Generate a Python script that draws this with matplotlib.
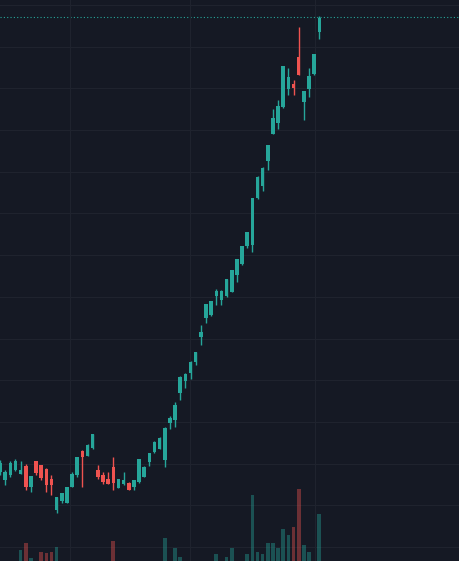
import numpy as np
import matplotlib.pyplot as plt

opens = [89, 81, 86, 91, 87, 95, 74, 100, 96, 92, 82, 51, 60, 58, 74, 86, 110, 105, 113, 91,
         86, 82, 94, 73, 77, 78, 74, 79, 84, 99, 109, 112, 101, 138, 141, 168, 180, 188, 199, 224,
         243, 246, 265, 261, 265, 269, 286, 297, 315, 316, 363, 375, 400, 427, 438, 454, 472, 477, 504, 459,
         472, 487, 529]
closes = [98, 89, 98, 100, 91, 74, 85, 88, 83, 76, 76, 64, 68, 74, 87, 104, 104, 116, 127, 84,
          79, 77, 78, 82, 81, 71, 81, 102, 94, 108, 119, 123, 133, 143, 156, 184, 187, 199, 209, 229,
          257, 260, 270, 270, 282, 291, 302, 315, 329, 363, 384, 393, 416, 443, 455, 495, 484, 473, 486, 470,
          485, 507, 543]
highs = [101, 91, 100, 102, 100, 97, 85, 100, 96, 93, 86, 64, 68, 74, 89, 104, 111, 117, 127, 96,
         89, 89, 104, 82, 89, 79, 81, 102, 95, 108, 120, 124, 134, 145, 159, 185, 188, 200, 209, 236,
         257, 260, 272, 271, 282, 291, 302, 315, 329, 363, 385, 394, 416, 452, 461, 495, 493, 481, 534, 470,
         493, 507, 545]
lows = [86, 76, 84, 90, 87, 71, 69, 86, 81, 69, 66, 48, 58, 58, 74, 84, 74, 105, 112, 82,
        77, 77, 71, 73, 76, 71, 71, 78, 84, 95, 108, 112, 94, 132, 134, 161, 173, 182, 196, 216,
        238, 245, 256, 256, 264, 269, 279, 296, 313, 309, 362, 370, 391, 427, 432, 453, 466, 466, 486, 441,
        464, 486, 522]
volumes = [0, 0, 0, 0, 11, 18, 3, 0, 9, 8, 9, 14, 0, 0, 0, 0, 0, 0, 0, 0,
           0, 0, 20, 0, 0, 0, 0, 0, 0, 0, 0, 0, 23, 0, 13, 4, 0, 0, 0, 0,
           0, 0, 7, 0, 4, 13, 0, 0, 7, 66, 9, 7, 18, 18, 13, 32, 26, 34, 72, 16,
           9, 0, 47]
last_price = 544

up = "#26a69a"
down = "#ef5350"
bg = "#151924"

fig = plt.figure(figsize=(4.6, 5.61), dpi=100, facecolor=bg)
ax = fig.add_axes([0, 0, 1, 1])
ax.set_facecolor(bg)

x = np.arange(len(opens))
o = np.array(opens); c = np.array(closes)
colors = [up if cc >= oo else down for oo, cc in zip(o, c)]

# volume
ax.bar(x, volumes, width=0.7, color=colors, alpha=0.4, zorder=2)
# wicks
ax.vlines(x, lows, highs, colors=colors, linewidth=1.0, zorder=3)
# bodies
ax.bar(x, np.maximum(np.abs(c - o), 1), bottom=np.minimum(o, c), width=0.68, color=colors, zorder=4)

ax.axhline(last_price, color=up, linestyle=(0, (1, 2)), linewidth=0.8, zorder=1)

ax.set_xlim(0, 460 / 5.15)
ax.set_ylim(0, 561)
ax.set_yticks(np.arange(14, 561, 41.7))
ax.set_xticks([13.6, 36.9, 61.2])
ax.grid(True, color="#1f232e", linewidth=0.8, zorder=0)
ax.tick_params(length=0, labelbottom=False, labelleft=False)
for s in ax.spines.values():
    s.set_visible(False)

fig.savefig("out.png", facecolor=bg)
